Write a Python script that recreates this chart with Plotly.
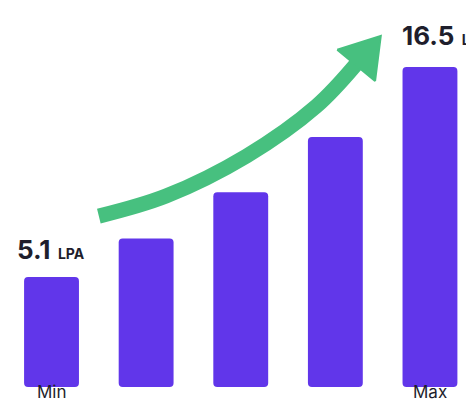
import plotly.graph_objects as go

levels = ["Min", "", "", "", "Max"]
salary = [5.1, 7.2, 9.7, 12.7, 16.5]
first_label = "5.1"
last_label = "16.5"
unit = "LPA"

# arrow path (decorative trend arrow), in data units
arrow_x = [0.50, 1.21, 2.06, 2.80, 3.22]
arrow_y = [8.41, 9.50, 11.67, 14.38, 16.66]
head_x = [3.02, 3.48, 3.42, 3.02]
head_y = [17.45, 18.20, 15.75, 17.45]

pos = list(range(len(salary)))
fig = go.Figure()
fig.add_trace(go.Bar(x=pos, y=[v + 0.87 for v in salary], base=-0.87, width=0.58,
                     marker=dict(color="#6136ea", line=dict(width=0)),
                     hoverinfo="skip"))
fig.add_trace(go.Scatter(x=arrow_x, y=arrow_y, mode="lines",
                         line=dict(color="#47c07f", width=15, shape="spline"),
                         hoverinfo="skip"))
fig.add_trace(go.Scatter(x=head_x, y=head_y, mode="lines", fill="toself",
                         fillcolor="#47c07f", line=dict(color="#47c07f", width=2),
                         hoverinfo="skip"))

font = dict(family="Inter", color="#1e1e2c")
for i, lab in enumerate(levels):
    if lab:
        fig.add_annotation(x=i, y=0, yref="paper", yanchor="bottom", yshift=9,
                           text=lab, showarrow=False, font=dict(size=17, **font))
fig.add_annotation(x=0, y=salary[0], xanchor="right", xshift=35, yshift=28,
                   text="<b>%s</b> <span style='font-size:14px'><b>%s</b></span>" % (first_label, unit),
                   showarrow=False, font=dict(size=26, **font))
fig.add_annotation(x=4, y=salary[4], xanchor="left", xshift=-30, yshift=32,
                   text="<b>%s</b> <span style='font-size:14px'><b>%s</b></span>" % (last_label, unit),
                   showarrow=False, font=dict(size=26, **font))

fig.update_layout(width=474, height=405, margin=dict(l=0, r=0, t=0, b=0),
                  plot_bgcolor="white", paper_bgcolor="white", showlegend=False,
                  barcornerradius=4,
                  xaxis=dict(range=[-0.46, 4.55], visible=False, fixedrange=True),
                  yaxis=dict(range=[-2.28, 19.71], visible=False, fixedrange=True))
fig.write_html("out.html", config={"displayModeBar": False})
